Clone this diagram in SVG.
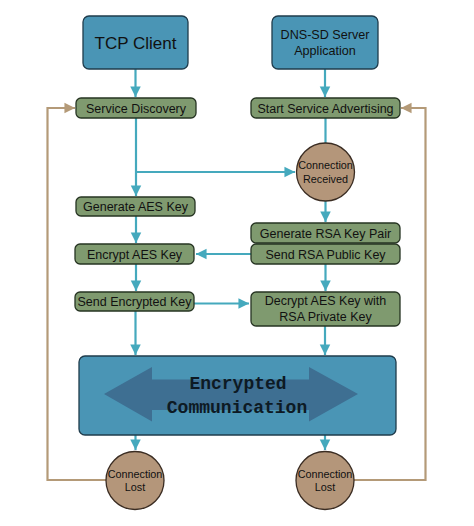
<svg xmlns="http://www.w3.org/2000/svg" width="474" height="526" viewBox="0 0 474 526">
<defs>
<style>
.top{fill:#4a95b5;stroke:#1f3c4c;stroke-width:1.3}
.step{fill:#7f9a6f;stroke:#263422;stroke-width:1.3}
.circ{fill:#b4967a;stroke:#3a2c22;stroke-width:1.3}
.t{font-family:"Liberation Sans",Arial,sans-serif;fill:#111;text-anchor:middle}
.blue{stroke:#45a9bd;stroke-width:2.2;fill:none}
.tan{stroke:#b49a78;stroke-width:2.2;fill:none}
</style>
<marker id="ab" viewBox="0 0 10 10" refX="10" refY="5" markerWidth="4.8" markerHeight="5.2" orient="auto" markerUnits="strokeWidth">
<path d="M0,0 L10,5 L0,10 z" fill="#45a9bd"/>
</marker>
<marker id="at" viewBox="0 0 10 10" refX="10" refY="5" markerWidth="4.8" markerHeight="5.2" orient="auto" markerUnits="strokeWidth">
<path d="M0,0 L10,5 L0,10 z" fill="#b49a78"/>
</marker>
</defs>
<rect width="474" height="526" fill="#ffffff"/>
<g id="connectors">
<path class="blue" d="M135.5,69 V97" marker-end="url(#ab)"/>
<path class="blue" d="M325,69 V97" marker-end="url(#ab)"/>
<path class="blue" d="M136,118 V196" marker-end="url(#ab)"/>
<path class="blue" d="M136,172 H295" marker-end="url(#ab)"/>
<path class="blue" d="M325.5,118 V143"/>
<path class="blue" d="M325.5,201 V222" marker-end="url(#ab)"/>
<path class="blue" d="M136,216 V243" marker-end="url(#ab)"/>
<path class="blue" d="M251,254 H196" marker-end="url(#ab)"/>
<path class="blue" d="M136,264 V291" marker-end="url(#ab)"/>
<path class="blue" d="M194,303.5 H249" marker-end="url(#ab)"/>
<path class="blue" d="M325.5,264 V291" marker-end="url(#ab)"/>
<path class="blue" d="M135.5,311 V355" marker-end="url(#ab)"/>
<path class="blue" d="M325,326 V355" marker-end="url(#ab)"/>
<path class="blue" d="M135.5,435 V450" marker-end="url(#ab)"/>
<path class="blue" d="M325,435 V450" marker-end="url(#ab)"/>
<path class="tan" d="M106,480 H47.5 V108 H75" marker-end="url(#at)"/>
<path class="tan" d="M354,480 H425.5 V108 H401" marker-end="url(#at)"/>
</g>
<g id="tcp-client">
<rect class="top" x="83" y="16" width="105" height="53" rx="6"/>
<text class="t" x="135.5" y="48.5" font-size="17">TCP Client</text>
</g>
<g id="dns-sd-server">
<rect class="top" x="272" y="16" width="106" height="53" rx="6"/>
<text class="t" x="325" y="38.5" font-size="12.6">DNS-SD Server</text>
<text class="t" x="325" y="54.5" font-size="12.6">Application</text>
</g>
<g id="service-discovery">
<rect class="step" x="76" y="98" width="120" height="20" rx="5"/>
<text class="t" x="136" y="112.5" font-size="12.5">Service Discovery</text>
</g>
<g id="start-advertising">
<rect class="step" x="251" y="98" width="149" height="20" rx="5"/>
<text class="t" x="325.5" y="112.5" font-size="12.5">Start Service Advertising</text>
</g>
<g id="connection-received">
<circle class="circ" cx="325.5" cy="172" r="29"/>
<text class="t" x="325.5" y="169" font-size="10.8">Connection</text>
<text class="t" x="325.5" y="183" font-size="10.8">Received</text>
</g>
<g id="generate-aes">
<rect class="step" x="76" y="197" width="119" height="19" rx="5"/>
<text class="t" x="135.5" y="211" font-size="12.5">Generate AES Key</text>
</g>
<g id="generate-rsa">
<rect class="step" x="251" y="223" width="149" height="20" rx="5"/>
<text class="t" x="325.5" y="237.5" font-size="12.5">Generate RSA Key Pair</text>
</g>
<g id="send-rsa">
<rect class="step" x="251" y="244" width="149" height="20" rx="5"/>
<text class="t" x="325.5" y="258.5" font-size="12.5">Send RSA Public Key</text>
</g>
<g id="encrypt-aes">
<rect class="step" x="75" y="244" width="119" height="20" rx="5"/>
<text class="t" x="134.5" y="258.5" font-size="12.5">Encrypt AES Key</text>
</g>
<g id="send-encrypted">
<rect class="step" x="75" y="292" width="119" height="19" rx="5"/>
<text class="t" x="134.5" y="306" font-size="12.5">Send Encrypted Key</text>
</g>
<g id="decrypt-aes">
<rect class="step" x="251" y="292" width="149" height="34" rx="5"/>
<text class="t" x="325.5" y="304.5" font-size="12.5">Decrypt AES Key with</text>
<text class="t" x="325.5" y="321" font-size="12.5">RSA Private Key</text>
</g>
<g id="encrypted-communication">
<rect class="top" x="79" y="356" width="317" height="79" rx="6"/>
<path d="M104,394 L152,367 V379.5 H309 V367 L358,394 L309,421.5 V410 H152 V421.5 z" fill="#3e6f92"/>
<text x="238" y="389" font-family="'Liberation Mono','DejaVu Sans Mono',monospace" font-weight="bold" font-size="18" text-anchor="middle" fill="#0d1a24">Encrypted</text>
<text x="237" y="413" font-family="'Liberation Mono','DejaVu Sans Mono',monospace" font-weight="bold" font-size="18" text-anchor="middle" fill="#0d1a24">Communication</text>
</g>
<g id="connection-lost-client">
<circle class="circ" cx="135" cy="480.5" r="29"/>
<text class="t" x="135" y="478" font-size="10.8">Connection</text>
<text class="t" x="135" y="491" font-size="10.8">Lost</text>
</g>
<g id="connection-lost-server">
<circle class="circ" cx="325" cy="480.5" r="29"/>
<text class="t" x="325" y="478" font-size="10.8">Connection</text>
<text class="t" x="325" y="491" font-size="10.8">Lost</text>
</g>
</svg>
